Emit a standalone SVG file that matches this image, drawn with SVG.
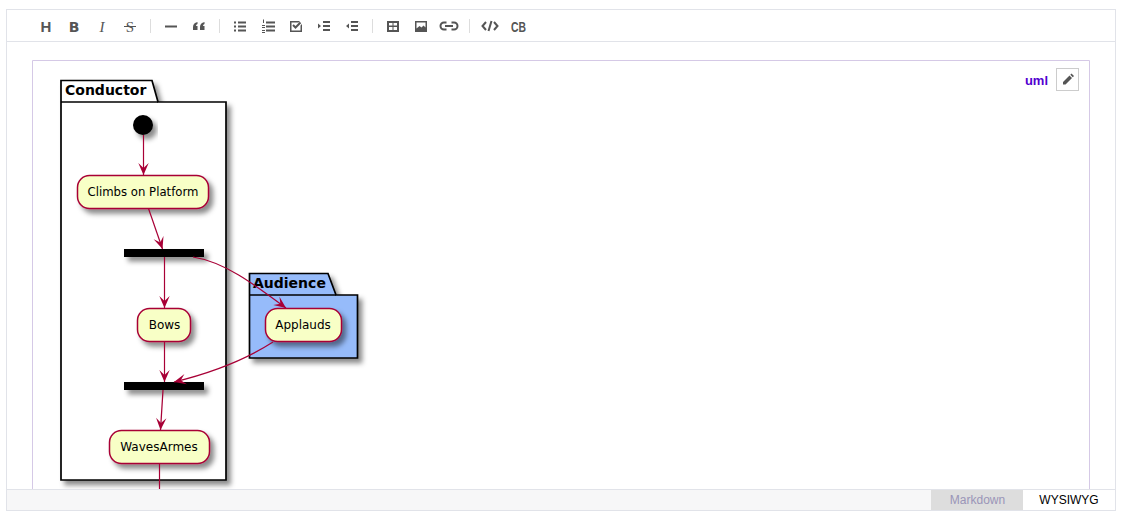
<svg xmlns="http://www.w3.org/2000/svg" width="1122" height="520" viewBox="0 0 1122 520">
<style>
.pkg{stroke:#000;stroke-width:1.7;stroke-linejoin:miter}
.pt{font:bold 14px "DejaVu Sans",sans-serif;fill:#000}
.act{fill:#F8FFC6;stroke:#A80036;stroke-width:1.5}
.at{font:12px "DejaVu Sans",sans-serif;fill:#000;text-anchor:middle}
.con{fill:none;stroke:#A80036;stroke-width:1.2;marker-end:url(#ah)}
.sep{stroke:#ddd;stroke-width:1}
.ic{fill:#555}
.ils{stroke:#555;stroke-width:2;fill:none}
.tt{font:bold 15px "Liberation Sans",sans-serif;fill:#555;text-anchor:middle}
</style>
<defs>
<filter id="sh" x="-15%" y="-50%" width="140%" height="300%"><feDropShadow dx="4" dy="4.500" stdDeviation="2.500" flood-color="#000" flood-opacity="0.45"/></filter>
<marker id="ah" markerUnits="userSpaceOnUse" markerWidth="14" markerHeight="14" viewBox="0 0 14 14" refX="13" refY="7" orient="auto"><path d="M13,7 L1,1.800 L6,7 L1,12.200 Z" fill="#A80036"/></marker>
</defs>
<rect width="1122" height="520" fill="#fff"/>
<g id="editor">
<rect x="6.500" y="9.500" width="1109" height="501" fill="#fff" stroke="#e1e3e9"/>
<line x1="7" y1="41.500" x2="1115" y2="41.500" stroke="#e1e3e9"/>
<path d="M32.500,489 V60.500 H1089.500 V489" fill="none" stroke="#d5c9e6"/>
</g>
<g id="toolbar">
<text class="tt" x="46" y="31.500">H</text>
<text x="74" y="31.500" text-anchor="middle" style="font:bold 14px 'DejaVu Sans',sans-serif;fill:#555">B</text>
<text x="102" y="31.500" text-anchor="middle" style="font:italic 15px 'Liberation Serif',serif;fill:#555">I</text>
<text x="130" y="31.500" text-anchor="middle" style="font:15px 'Liberation Serif',serif;fill:#555">S</text>
<line x1="124" y1="26.500" x2="136" y2="26.500" stroke="#555"/>
<line class="sep" x1="150.500" y1="19" x2="150.500" y2="33"/>
<line class="ils" x1="165" y1="26.500" x2="177" y2="26.500"/>
<path class="ic" d="M193,30 v-3 q0,-4 4.500,-5 v2 q-1.500,.5 -1.500,2 h1.500 v4 z M200,30 v-3 q0,-4 4.500,-5 v2 q-1.500,.5 -1.500,2 h1.500 v4 z"/>
<line class="sep" x1="219.500" y1="19" x2="219.500" y2="33"/>
<path class="ic" d="M234,21.500h2v2h-2zM234,25.500h2v2h-2zM234,29.500h2v2h-2zM238,21.500h8v2h-8zM238,25.500h8v2h-8zM238,29.500h8v2h-8z"/>
<path class="ic" d="M266,21.500h9v2h-9zM266,25.500h9v2h-9zM266,29.500h9v2h-9zM263,19.500h1v3.500h-1zM262,25h3v1h-3zM262,27h3v1h-3zM262,30h3v1h-3zM262,32h3v1h-3z"/>
<path class="ic" d="M290,21h10l-1.500,1.500h-7v8h9v-5l1.500,-1.500v8h-12z"/>
<path class="ils" d="M293,25l2.500,2.500l5,-5" stroke-width="1.500"/>
<path class="ic" d="M318,23.500l3,2.500l-3,2.500zM323,21h7v2h-7zM323,25h7v2h-7zM323,29h7v2h-7z"/>
<path class="ic" d="M349,23.500l-3,2.500l3,2.500zM351,21h7v2h-7zM351,25h7v2h-7zM351,29h7v2h-7z"/>
<line class="sep" x1="372.500" y1="19" x2="372.500" y2="33"/>
<path class="ic" fill-rule="evenodd" d="M387,21h12v11h-12zM389,23v2.500h3.500v-2.500zM393.500,23v2.500h3.500v-2.500zM389,27v3h3.500v-3zM393.500,27v3h3.500v-3z"/>
<path class="ic" fill-rule="evenodd" d="M415,21h12v11h-12zM416.500,22.500v6l3,-2.500l2,1.500l2,-2l2,2v-5z"/>
<path class="ils" d="M446.500,22.500h-2.500a3.500,3.500 0 0 0 0,7h2.500M451.500,22.500h2.500a3.500,3.500 0 0 1 0,7h-2.500M445,26h8" stroke-width="1.700"/>
<line class="sep" x1="469.500" y1="19" x2="469.500" y2="33"/>
<path class="ils" d="M486,22l-3.500,4l3.500,4M494,22l3.500,4l-3.500,4M491.500,21l-3,10" stroke-width="1.300"/>
<text x="511" y="31.500" style="font:bold 15px 'Liberation Sans',sans-serif;fill:#555" textLength="15" lengthAdjust="spacingAndGlyphs">CB</text>
</g>
<g id="uml-header">
<text x="1048" y="85" text-anchor="end" style="font:bold 13px 'Liberation Sans',sans-serif;fill:#5200d0">uml</text>
<rect x="1056.500" y="68.500" width="22" height="22" fill="#fff" stroke="#ccc"/>
<path d="M1063,84.500v-2.500l6.500,-6.500l2.500,2.500l-6.500,6.500zM1070.300,74.700l1.200,-1.200l2.500,2.500l-1.200,1.200z" fill="#555"/>
</g>
<g id="Conductor">
<path class="pkg" fill="#fff" filter="url(#sh)" d="M61,102 V80.500 H152 L158,102 H226 V480 H61 Z"/>
<line x1="61" y1="102" x2="158" y2="102" stroke="#000" stroke-width="1.700"/>
<text class="pt" x="65" y="95">Conductor</text>
</g>
<g id="Audience">
<path class="pkg" fill="#96BBFA" filter="url(#sh)" d="M249.500,295 V273.500 H328 L336,295 H357.500 V358 H249.500 Z"/>
<line x1="249.500" y1="295" x2="336" y2="295" stroke="#000" stroke-width="1.700"/>
<text class="pt" x="253" y="288">Audience</text>
</g>
<g id="start"><circle cx="143" cy="125" r="10" fill="#000" filter="url(#sh)"/></g>
<g id="ClimbsOnPlatform"><rect class="act" filter="url(#sh)" x="77.500" y="175.500" width="131" height="33" rx="12"/><text class="at" x="143" y="196" style="font-size:11.700px">Climbs on Platform</text></g>
<g id="bar1"><rect x="124" y="249" width="80" height="8" fill="#000" filter="url(#sh)"/></g>
<g id="Bows"><rect class="act" filter="url(#sh)" x="137.500" y="308.500" width="53" height="33" rx="12"/><text class="at" x="164.500" y="329">Bows</text></g>
<g id="Applauds"><rect class="act" filter="url(#sh)" x="265.500" y="308.500" width="76" height="33" rx="12"/><text class="at" x="303" y="329">Applauds</text></g>
<g id="bar2"><rect x="124" y="382" width="80" height="8" fill="#000" filter="url(#sh)"/></g>
<g id="WavesArmes"><rect class="act" filter="url(#sh)" x="109.500" y="430.500" width="100" height="33" rx="12"/><text class="at" x="159" y="451">WavesArmes</text></g>
<g id="connectors">
<path class="con" d="M143.500,135 V175"/>
<path class="con" d="M148.500,208.500 L162.500,249"/>
<path class="con" d="M164.500,257 V308"/>
<path class="con" d="M164.500,342 V382"/>
<path class="con" d="M163,390 L160.500,430"/>
<path class="con" d="M193,257 C225,262 255,285 286,308"/>
<path class="con" d="M273,342 C245,360 215,372 174,382"/>
<path d="M159.500,464 V490" fill="none" stroke="#A80036" stroke-width="1.200"/>
</g>
<g id="footer">
<rect x="6.500" y="489.500" width="1109" height="21" fill="#f7f7f8" stroke="#e1e3e9"/>
<rect x="931" y="490" width="92" height="20" fill="#ddd"/>
<rect x="1023" y="490" width="92" height="20" fill="#fff"/>
<text x="977.500" y="504" text-anchor="middle" style="font:12px 'Liberation Sans',sans-serif;fill:#9a95b8">Markdown</text>
<text x="1069" y="504" text-anchor="middle" style="font:12px 'Liberation Sans',sans-serif;fill:#000">WYSIWYG</text>
</g>
</svg>
